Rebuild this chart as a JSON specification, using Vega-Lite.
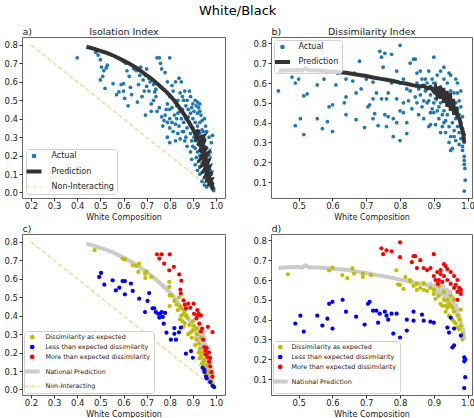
{
  "$schema": "https://vega.github.io/schema/vega-lite/v6.json",
  "background": "white",
  "padding": {"left": 0, "top": 4, "right": 5, "bottom": 2},
  "autosize": {"type": "pad"},
  "title": {"text": "White/Black", "fontSize": 13, "fontWeight": "normal", "font": "DejaVu Sans", "anchor": "middle", "offset": 8},
  "config": {
    "font": "DejaVu Sans",
    "view": {"stroke": "#666666", "strokeWidth": 1},
    "axis": {"grid": false, "domain": false, "labelOverlap": false, "labelFlush": false, "tickColor": "#333333", "tickSize": 3, "labelFontSize": 8.5, "labelColor": "#1a1a1a", "labelFont": "DejaVu Sans", "titleFont": "DejaVu Sans", "titleFontWeight": "normal", "titleColor": "#1a1a1a", "titleFontSize": 8}
  },
  "resolve": {"scale": {"color": "independent"}, "legend": {"color": "independent"}},
  "datasets": {
    "nonint": [{"x": 0.2, "y": 0.8}, {"x": 1.0, "y": 0.0}],
    "pred_a": [
      {"i":1,"x":0.44,"y":0.79},{"i":2,"x":0.47,"y":0.78},{"i":3,"x":0.5,"y":0.768},{"i":4,"x":0.53,"y":0.755},{"i":5,"x":0.56,"y":0.74},{"i":6,"x":0.6,"y":0.715},{"i":7,"x":0.63,"y":0.695},{"i":8,"x":0.66,"y":0.672},{"i":9,"x":0.69,"y":0.645},{"i":10,"x":0.72,"y":0.618},{"i":11,"x":0.75,"y":0.585},{"i":12,"x":0.78,"y":0.552},{"i":13,"x":0.8,"y":0.527},{"i":14,"x":0.82,"y":0.497},{"i":15,"x":0.84,"y":0.463},{"i":16,"x":0.86,"y":0.427},{"i":17,"x":0.88,"y":0.388},{"i":18,"x":0.89,"y":0.365},{"i":19,"x":0.9,"y":0.345},{"i":20,"x":0.91,"y":0.318},{"i":21,"x":0.925,"y":0.34},{"i":22,"x":0.915,"y":0.29},{"i":23,"x":0.945,"y":0.305},{"i":24,"x":0.922,"y":0.255},{"i":25,"x":0.952,"y":0.29},{"i":26,"x":0.93,"y":0.22},{"i":27,"x":0.958,"y":0.25},{"i":28,"x":0.935,"y":0.185},{"i":29,"x":0.962,"y":0.21},{"i":30,"x":0.942,"y":0.15},{"i":31,"x":0.966,"y":0.17},{"i":32,"x":0.95,"y":0.12},{"i":33,"x":0.97,"y":0.135},{"i":34,"x":0.956,"y":0.09},{"i":35,"x":0.975,"y":0.1},{"i":36,"x":0.963,"y":0.065},{"i":37,"x":0.98,"y":0.07},{"i":38,"x":0.972,"y":0.045},{"i":39,"x":0.983,"y":0.045},{"i":40,"x":0.985,"y":0.025},{"i":41,"x":0.99,"y":0.015}
    ],
    "pred_b": [
      {"i":1,"x":0.44,"y":0.662},{"i":2,"x":0.47,"y":0.664},{"i":3,"x":0.5,"y":0.665},{"i":4,"x":0.51,"y":0.662},{"i":5,"x":0.52,"y":0.674},{"i":6,"x":0.53,"y":0.664},{"i":7,"x":0.56,"y":0.663},{"i":8,"x":0.6,"y":0.657},{"i":9,"x":0.64,"y":0.652},{"i":10,"x":0.67,"y":0.643},{"i":11,"x":0.7,"y":0.635},{"i":12,"x":0.72,"y":0.628},{"i":13,"x":0.74,"y":0.622},{"i":14,"x":0.76,"y":0.616},{"i":15,"x":0.78,"y":0.61},{"i":16,"x":0.8,"y":0.602},{"i":17,"x":0.82,"y":0.596},{"i":18,"x":0.84,"y":0.588},{"i":19,"x":0.86,"y":0.582},{"i":20,"x":0.87,"y":0.586},{"i":21,"x":0.88,"y":0.572},{"i":22,"x":0.89,"y":0.58},{"i":23,"x":0.9,"y":0.558},{"i":24,"x":0.905,"y":0.578},{"i":25,"x":0.91,"y":0.54},{"i":26,"x":0.918,"y":0.582},{"i":27,"x":0.92,"y":0.52},{"i":28,"x":0.928,"y":0.575},{"i":29,"x":0.93,"y":0.5},{"i":30,"x":0.938,"y":0.56},{"i":31,"x":0.94,"y":0.48},{"i":32,"x":0.948,"y":0.55},{"i":33,"x":0.95,"y":0.46},{"i":34,"x":0.957,"y":0.52},{"i":35,"x":0.96,"y":0.44},{"i":36,"x":0.966,"y":0.48},{"i":37,"x":0.97,"y":0.43},{"i":38,"x":0.976,"y":0.42},{"i":39,"x":0.981,"y":0.38},{"i":40,"x":0.986,"y":0.355},{"i":41,"x":0.99,"y":0.3}
    ],
    "a_pts": [
      {"x":0.40,"y":0.73},{"x":0.48,"y":0.76},{"x":0.49,"y":0.745},{"x":0.50,"y":0.72},{"x":0.52,"y":0.76},{"x":0.505,"y":0.68},{"x":0.515,"y":0.66},{"x":0.525,"y":0.675},{"x":0.53,"y":0.69},{"x":0.50,"y":0.61},{"x":0.51,"y":0.63},{"x":0.52,"y":0.565},{"x":0.555,"y":0.59},{"x":0.57,"y":0.53},{"x":0.58,"y":0.545},{"x":0.59,"y":0.585},{"x":0.60,"y":0.59},{"x":0.60,"y":0.71},{"x":0.61,"y":0.70},{"x":0.615,"y":0.66},{"x":0.625,"y":0.63},{"x":0.605,"y":0.51},{"x":0.63,"y":0.57},{"x":0.635,"y":0.53},{"x":0.645,"y":0.67},{"x":0.655,"y":0.66},{"x":0.66,"y":0.49},{"x":0.665,"y":0.585},{"x":0.67,"y":0.635},{"x":0.675,"y":0.68},{"x":0.685,"y":0.61},{"x":0.695,"y":0.635},{"x":0.70,"y":0.575},{"x":0.71,"y":0.55},{"x":0.715,"y":0.60},{"x":0.72,"y":0.48},{"x":0.73,"y":0.50},{"x":0.735,"y":0.545},{"x":0.74,"y":0.52},{"x":0.695,"y":0.42},{"x":0.745,"y":0.44},{"x":0.755,"y":0.46},{"x":0.765,"y":0.41},{"x":0.72,"y":0.44},{"x":0.745,"y":0.73},{"x":0.755,"y":0.73},{"x":0.76,"y":0.70},{"x":0.765,"y":0.67},{"x":0.70,"y":0.67},{"x":0.71,"y":0.62},{"x":0.73,"y":0.585},{"x":0.74,"y":0.56},{"x":0.60,"y":0.55},{"x":0.62,"y":0.47},{"x":0.68,"y":0.52},{"x":0.69,"y":0.55},
      {"x":0.775,"y":0.39},{"x":0.78,"y":0.42},{"x":0.77,"y":0.36},{"x":0.785,"y":0.45},{"x":0.79,"y":0.48},{"x":0.80,"y":0.73},{"x":0.78,"y":0.65},{"x":0.79,"y":0.60},{"x":0.80,"y":0.52},{"x":0.80,"y":0.45},{"x":0.81,"y":0.58},{"x":0.79,"y":0.30},{"x":0.80,"y":0.27},{"x":0.815,"y":0.33},{"x":0.825,"y":0.28},{"x":0.835,"y":0.32},{"x":0.82,"y":0.42},{"x":0.83,"y":0.47},{"x":0.835,"y":0.50},{"x":0.845,"y":0.54},{"x":0.84,"y":0.62},{"x":0.85,"y":0.60},{"x":0.855,"y":0.45},{"x":0.86,"y":0.38},{"x":0.865,"y":0.42},{"x":0.875,"y":0.35},{"x":0.87,"y":0.30},{"x":0.875,"y":0.25},{"x":0.85,"y":0.40},{"x":0.84,"y":0.36},{"x":0.83,"y":0.40},{"x":0.81,"y":0.38},{"x":0.80,"y":0.40},{"x":0.82,"y":0.50},{"x":0.86,"y":0.50},{"x":0.87,"y":0.47},{"x":0.855,"y":0.52},{"x":0.865,"y":0.55},{"x":0.845,"y":0.44},{"x":0.835,"y":0.43},{"x":0.825,"y":0.37},{"x":0.855,"y":0.33},{"x":0.865,"y":0.28},{"x":0.845,"y":0.29},{"x":0.80,"y":0.35},{"x":0.81,"y":0.46},{"x":0.79,"y":0.38},{"x":0.815,"y":0.55},{"x":0.825,"y":0.60},{"x":0.86,"y":0.33},{"x":0.87,"y":0.40},{"x":0.88,"y":0.45},{"x":0.88,"y":0.41},{"x":0.875,"y":0.50},
      {"x":0.885,"y":0.38},{"x":0.89,"y":0.32},{"x":0.89,"y":0.22},{"x":0.895,"y":0.28},{"x":0.90,"y":0.40},{"x":0.90,"y":0.35},{"x":0.90,"y":0.25},{"x":0.905,"y":0.30},{"x":0.91,"y":0.38},{"x":0.91,"y":0.33},{"x":0.91,"y":0.24},{"x":0.915,"y":0.28},{"x":0.915,"y":0.19},{"x":0.92,"y":0.43},{"x":0.92,"y":0.36},{"x":0.92,"y":0.30},{"x":0.92,"y":0.22},{"x":0.925,"y":0.26},{"x":0.925,"y":0.17},{"x":0.93,"y":0.38},{"x":0.93,"y":0.32},{"x":0.93,"y":0.27},{"x":0.93,"y":0.20},{"x":0.93,"y":0.14},{"x":0.935,"y":0.24},{"x":0.935,"y":0.30},{"x":0.94,"y":0.34},{"x":0.94,"y":0.28},{"x":0.94,"y":0.22},{"x":0.94,"y":0.16},{"x":0.94,"y":0.11},{"x":0.945,"y":0.19},{"x":0.945,"y":0.25},{"x":0.95,"y":0.29},{"x":0.95,"y":0.23},{"x":0.95,"y":0.17},{"x":0.95,"y":0.12},{"x":0.95,"y":0.08},{"x":0.955,"y":0.20},{"x":0.955,"y":0.14},{"x":0.96,"y":0.24},{"x":0.96,"y":0.18},{"x":0.96,"y":0.12},{"x":0.96,"y":0.07},{"x":0.965,"y":0.15},{"x":0.965,"y":0.10},{"x":0.97,"y":0.20},{"x":0.97,"y":0.14},{"x":0.97,"y":0.09},{"x":0.97,"y":0.05},{"x":0.975,"y":0.12},{"x":0.975,"y":0.07},{"x":0.98,"y":0.10},{"x":0.98,"y":0.06},{"x":0.98,"y":0.03},{"x":0.985,"y":0.31},{"x":0.98,"y":0.27},{"x":0.975,"y":0.22},{"x":0.985,"y":0.05},{"x":0.99,"y":0.02},{"x":0.99,"y":0.01},{"x":0.985,"y":0.02},{"x":0.97,"y":0.30},{"x":0.96,"y":0.33},{"x":0.955,"y":0.36},{"x":0.95,"y":0.40},{"x":0.945,"y":0.33},{"x":0.94,"y":0.39},{"x":0.935,"y":0.42},{"x":0.93,"y":0.44},{"x":0.925,"y":0.46},{"x":0.915,"y":0.47},{"x":0.905,"y":0.44},{"x":0.90,"y":0.48},{"x":0.895,"y":0.46},{"x":0.89,"y":0.52},{"x":0.885,"y":0.55},{"x":0.91,"y":0.50},{"x":0.92,"y":0.49},{"x":0.93,"y":0.48},{"x":0.89,"y":0.43},{"x":0.895,"y":0.18},{"x":0.91,"y":0.15},{"x":0.92,"y":0.12},{"x":0.93,"y":0.10},{"x":0.94,"y":0.06},{"x":0.95,"y":0.04},{"x":0.96,"y":0.03}
    ],
    "b_pts": [
      {"x":0.44,"y":0.56},{"x":0.48,"y":0.63},{"x":0.49,"y":0.60},{"x":0.50,"y":0.62},{"x":0.49,"y":0.385},{"x":0.505,"y":0.42},{"x":0.515,"y":0.535},{"x":0.525,"y":0.545},{"x":0.515,"y":0.34},{"x":0.555,"y":0.42},{"x":0.555,"y":0.59},{"x":0.57,"y":0.37},{"x":0.575,"y":0.62},{"x":0.585,"y":0.405},{"x":0.59,"y":0.48},{"x":0.60,"y":0.49},{"x":0.60,"y":0.355},{"x":0.61,"y":0.59},{"x":0.605,"y":0.66},{"x":0.615,"y":0.65},{"x":0.635,"y":0.50},{"x":0.64,"y":0.53},{"x":0.64,"y":0.44},{"x":0.64,"y":0.62},{"x":0.66,"y":0.61},{"x":0.665,"y":0.65},{"x":0.67,"y":0.415},{"x":0.67,"y":0.55},{"x":0.68,"y":0.71},{"x":0.685,"y":0.57},{"x":0.695,"y":0.375},{"x":0.70,"y":0.62},{"x":0.705,"y":0.48},{"x":0.71,"y":0.49},{"x":0.72,"y":0.52},{"x":0.72,"y":0.605},{"x":0.725,"y":0.445},{"x":0.73,"y":0.55},{"x":0.735,"y":0.385},{"x":0.74,"y":0.76},{"x":0.745,"y":0.73},{"x":0.755,"y":0.75},{"x":0.75,"y":0.68},{"x":0.76,"y":0.52},{"x":0.755,"y":0.44},{"x":0.765,"y":0.43},{"x":0.775,"y":0.745},{"x":0.775,"y":0.60},{"x":0.78,"y":0.33},{"x":0.78,"y":0.42},{"x":0.79,"y":0.66},{"x":0.80,"y":0.79},{"x":0.80,"y":0.31},{"x":0.80,"y":0.46},{"x":0.81,"y":0.62},{"x":0.81,"y":0.50},{"x":0.82,"y":0.40},{"x":0.82,"y":0.345},{"x":0.83,"y":0.56},{"x":0.83,"y":0.70},{"x":0.84,"y":0.72},{"x":0.845,"y":0.72},{"x":0.85,"y":0.60},{"x":0.85,"y":0.50},{"x":0.855,"y":0.44},{"x":0.86,"y":0.66},{"x":0.86,"y":0.54},{"x":0.87,"y":0.42},{"x":0.865,"y":0.48},{"x":0.875,"y":0.62},{"x":0.88,"y":0.50},{"x":0.885,"y":0.38},{"x":0.89,"y":0.39},{"x":0.90,"y":0.73},{"x":0.745,"y":0.52},{"x":0.765,"y":0.55},{"x":0.79,"y":0.52},{"x":0.80,"y":0.60},{"x":0.82,"y":0.57},{"x":0.825,"y":0.51},{"x":0.835,"y":0.47},{"x":0.845,"y":0.53},{"x":0.85,"y":0.65},{"x":0.855,"y":0.57},{"x":0.865,"y":0.62},{"x":0.87,"y":0.51},{"x":0.875,"y":0.56},{"x":0.88,"y":0.60},{"x":0.885,"y":0.66},{"x":0.89,"y":0.54},{"x":0.895,"y":0.62},{"x":0.72,"y":0.42},{"x":0.76,"y":0.38},{"x":0.79,"y":0.40},{"x":0.81,"y":0.45},
      {"x":0.90,"y":0.60},{"x":0.90,"y":0.45},{"x":0.905,"y":0.52},{"x":0.91,"y":0.64},{"x":0.91,"y":0.55},{"x":0.915,"y":0.48},{"x":0.915,"y":0.42},{"x":0.92,"y":0.66},{"x":0.92,"y":0.58},{"x":0.92,"y":0.50},{"x":0.925,"y":0.44},{"x":0.925,"y":0.38},{"x":0.93,"y":0.68},{"x":0.93,"y":0.62},{"x":0.93,"y":0.54},{"x":0.93,"y":0.46},{"x":0.935,"y":0.35},{"x":0.935,"y":0.41},{"x":0.94,"y":0.60},{"x":0.94,"y":0.52},{"x":0.94,"y":0.44},{"x":0.945,"y":0.38},{"x":0.945,"y":0.65},{"x":0.95,"y":0.26},{"x":0.95,"y":0.64},{"x":0.95,"y":0.56},{"x":0.95,"y":0.47},{"x":0.95,"y":0.33},{"x":0.955,"y":0.27},{"x":0.955,"y":0.40},{"x":0.96,"y":0.55},{"x":0.96,"y":0.45},{"x":0.96,"y":0.36},{"x":0.965,"y":0.62},{"x":0.965,"y":0.50},{"x":0.965,"y":0.42},{"x":0.965,"y":0.31},{"x":0.97,"y":0.60},{"x":0.97,"y":0.55},{"x":0.97,"y":0.47},{"x":0.97,"y":0.38},{"x":0.975,"y":0.51},{"x":0.975,"y":0.44},{"x":0.975,"y":0.35},{"x":0.98,"y":0.56},{"x":0.98,"y":0.48},{"x":0.98,"y":0.40},{"x":0.98,"y":0.32},{"x":0.985,"y":0.43},{"x":0.985,"y":0.37},{"x":0.985,"y":0.28},{"x":0.99,"y":0.34},{"x":0.99,"y":0.30},{"x":0.99,"y":0.23},{"x":0.99,"y":0.21},{"x":0.99,"y":0.19},{"x":0.992,"y":0.17},{"x":0.993,"y":0.11},{"x":0.99,"y":0.055},{"x":0.985,"y":0.26},{"x":0.975,"y":0.29},{"x":0.96,"y":0.33},{"x":0.945,"y":0.30},{"x":0.93,"y":0.40},{"x":0.92,"y":0.35},{"x":0.91,"y":0.46},{"x":0.905,"y":0.39},{"x":0.90,"y":0.50},{"x":0.895,"y":0.47},{"x":0.89,"y":0.45},{"x":0.885,"y":0.51}
    ],
    "c_exp": [
      {"x":0.475,"y":0.755},{"x":0.596,"y":0.71},{"x":0.606,"y":0.705},{"x":0.64,"y":0.673},{"x":0.655,"y":0.67},{"x":0.668,"y":0.682},{"x":0.664,"y":0.637},{"x":0.693,"y":0.628},{"x":0.70,"y":0.64},{"x":0.695,"y":0.605},{"x":0.72,"y":0.61},{"x":0.798,"y":0.583},{"x":0.798,"y":0.556},{"x":0.80,"y":0.51},{"x":0.80,"y":0.452},{"x":0.82,"y":0.48},{"x":0.83,"y":0.46},{"x":0.835,"y":0.43},{"x":0.845,"y":0.45},{"x":0.85,"y":0.40},{"x":0.855,"y":0.37},{"x":0.86,"y":0.34},{"x":0.865,"y":0.36},{"x":0.875,"y":0.39},{"x":0.885,"y":0.35},{"x":0.90,"y":0.37},{"x":0.905,"y":0.345},{"x":0.915,"y":0.33},{"x":0.92,"y":0.30},{"x":0.925,"y":0.25},{"x":0.93,"y":0.22},{"x":0.935,"y":0.18},{"x":0.94,"y":0.20},{"x":0.945,"y":0.15},{"x":0.95,"y":0.16},{"x":0.955,"y":0.12},{"x":0.96,"y":0.13},{"x":0.965,"y":0.085},{"x":0.975,"y":0.06},{"x":0.97,"y":0.10},{"x":0.985,"y":0.03},{"x":0.915,"y":0.27},{"x":0.925,"y":0.20},{"x":0.935,"y":0.28},{"x":0.91,"y":0.24},{"x":0.95,"y":0.11},{"x":0.955,"y":0.09},{"x":0.865,"y":0.43},{"x":0.88,"y":0.30},{"x":0.895,"y":0.28},{"x":0.90,"y":0.32},{"x":0.85,"y":0.44},{"x":0.86,"y":0.41},{"x":0.87,"y":0.40},{"x":0.84,"y":0.50},{"x":0.81,"y":0.51},{"x":0.845,"y":0.38},{"x":0.89,"y":0.31},{"x":0.93,"y":0.17},{"x":0.94,"y":0.14},{"x":0.96,"y":0.08},{"x":0.98,"y":0.05}
    ],
    "c_less": [
      {"x":0.495,"y":0.61},{"x":0.503,"y":0.632},{"x":0.517,"y":0.568},{"x":0.553,"y":0.592},{"x":0.567,"y":0.537},{"x":0.582,"y":0.552},{"x":0.596,"y":0.588},{"x":0.606,"y":0.588},{"x":0.606,"y":0.516},{"x":0.632,"y":0.574},{"x":0.64,"y":0.534},{"x":0.668,"y":0.492},{"x":0.693,"y":0.42},{"x":0.704,"y":0.48},{"x":0.711,"y":0.523},{"x":0.726,"y":0.44},{"x":0.733,"y":0.44},{"x":0.74,"y":0.42},{"x":0.75,"y":0.41},{"x":0.759,"y":0.411},{"x":0.77,"y":0.393},{"x":0.774,"y":0.357},{"x":0.78,"y":0.415},{"x":0.786,"y":0.308},{"x":0.805,"y":0.27},{"x":0.82,"y":0.333},{"x":0.82,"y":0.302},{"x":0.827,"y":0.27},{"x":0.84,"y":0.31},{"x":0.848,"y":0.335},{"x":0.87,"y":0.194},{"x":0.892,"y":0.208},{"x":0.90,"y":0.172},{"x":0.942,"y":0.118},{"x":0.95,"y":0.095},{"x":0.957,"y":0.07},{"x":0.95,"y":0.105},{"x":0.96,"y":0.06},{"x":0.975,"y":0.04},{"x":0.985,"y":0.02},{"x":0.992,"y":0.013},{"x":0.755,"y":0.39},{"x":0.765,"y":0.42}
    ],
    "c_more": [
      {"x":0.745,"y":0.733},{"x":0.755,"y":0.71},{"x":0.765,"y":0.733},{"x":0.776,"y":0.682},{"x":0.80,"y":0.733},{"x":0.818,"y":0.665},{"x":0.798,"y":0.646},{"x":0.841,"y":0.624},{"x":0.85,"y":0.59},{"x":0.846,"y":0.541},{"x":0.848,"y":0.52},{"x":0.86,"y":0.483},{"x":0.903,"y":0.465},{"x":0.889,"y":0.443},{"x":0.92,"y":0.43},{"x":0.905,"y":0.41},{"x":0.935,"y":0.402},{"x":0.928,"y":0.357},{"x":0.94,"y":0.33},{"x":0.935,"y":0.315},{"x":0.965,"y":0.34},{"x":0.985,"y":0.311},{"x":0.949,"y":0.23},{"x":0.955,"y":0.21},{"x":0.964,"y":0.176},{"x":0.97,"y":0.15},{"x":0.975,"y":0.125},{"x":0.981,"y":0.094},{"x":0.985,"y":0.07},{"x":0.87,"y":0.44},{"x":0.88,"y":0.465},{"x":0.915,"y":0.385},{"x":0.925,"y":0.41},{"x":0.945,"y":0.27},{"x":0.96,"y":0.225},{"x":0.97,"y":0.2},{"x":0.975,"y":0.17},{"x":0.865,"y":0.46},{"x":0.955,"y":0.19},{"x":0.92,"y":0.4}
    ],
    "d_exp": [
      {"x":0.468,"y":0.629},{"x":0.59,"y":0.649},{"x":0.60,"y":0.662},{"x":0.629,"y":0.625},{"x":0.644,"y":0.61},{"x":0.659,"y":0.659},{"x":0.664,"y":0.632},{"x":0.69,"y":0.615},{"x":0.69,"y":0.632},{"x":0.714,"y":0.624},{"x":0.789,"y":0.649},{"x":0.794,"y":0.578},{"x":0.80,"y":0.575},{"x":0.816,"y":0.615},{"x":0.829,"y":0.60},{"x":0.84,"y":0.57},{"x":0.85,"y":0.55},{"x":0.86,"y":0.56},{"x":0.87,"y":0.55},{"x":0.88,"y":0.545},{"x":0.89,"y":0.56},{"x":0.90,"y":0.53},{"x":0.905,"y":0.505},{"x":0.915,"y":0.52},{"x":0.92,"y":0.48},{"x":0.925,"y":0.47},{"x":0.93,"y":0.50},{"x":0.935,"y":0.44},{"x":0.94,"y":0.46},{"x":0.945,"y":0.42},{"x":0.95,"y":0.47},{"x":0.955,"y":0.40},{"x":0.96,"y":0.44},{"x":0.965,"y":0.38},{"x":0.97,"y":0.36},{"x":0.975,"y":0.35},{"x":0.975,"y":0.40},{"x":0.985,"y":0.30},{"x":0.985,"y":0.33},{"x":0.98,"y":0.45},{"x":0.96,"y":0.50},{"x":0.95,"y":0.52},{"x":0.94,"y":0.50},{"x":0.93,"y":0.54},{"x":0.915,"y":0.57},{"x":0.90,"y":0.55},{"x":0.87,"y":0.58},{"x":0.85,"y":0.58},{"x":0.83,"y":0.595},{"x":0.81,"y":0.555},{"x":0.96,"y":0.39},{"x":0.97,"y":0.42},{"x":0.98,"y":0.37},{"x":0.955,"y":0.46},{"x":0.945,"y":0.48},{"x":0.935,"y":0.47}
    ],
    "d_less": [
      {"x":0.49,"y":0.38},{"x":0.505,"y":0.42},{"x":0.515,"y":0.34},{"x":0.555,"y":0.42},{"x":0.57,"y":0.37},{"x":0.585,"y":0.405},{"x":0.59,"y":0.48},{"x":0.60,"y":0.49},{"x":0.60,"y":0.355},{"x":0.63,"y":0.50},{"x":0.64,"y":0.44},{"x":0.67,"y":0.415},{"x":0.695,"y":0.375},{"x":0.705,"y":0.48},{"x":0.71,"y":0.49},{"x":0.72,"y":0.445},{"x":0.73,"y":0.445},{"x":0.735,"y":0.385},{"x":0.74,"y":0.43},{"x":0.755,"y":0.44},{"x":0.76,"y":0.42},{"x":0.765,"y":0.40},{"x":0.775,"y":0.43},{"x":0.78,"y":0.33},{"x":0.79,"y":0.43},{"x":0.80,"y":0.31},{"x":0.82,"y":0.40},{"x":0.82,"y":0.345},{"x":0.84,"y":0.44},{"x":0.84,"y":0.395},{"x":0.865,"y":0.425},{"x":0.87,"y":0.395},{"x":0.89,"y":0.39},{"x":0.90,"y":0.385},{"x":0.94,"y":0.36},{"x":0.945,"y":0.335},{"x":0.95,"y":0.41},{"x":0.955,"y":0.26},{"x":0.96,"y":0.27},{"x":0.96,"y":0.355},{"x":0.98,"y":0.32},{"x":0.99,"y":0.21},{"x":0.99,"y":0.19},{"x":0.993,"y":0.2},{"x":0.993,"y":0.11},{"x":0.99,"y":0.055}
    ],
    "d_more": [
      {"x":0.745,"y":0.76},{"x":0.75,"y":0.73},{"x":0.76,"y":0.75},{"x":0.775,"y":0.745},{"x":0.80,"y":0.79},{"x":0.80,"y":0.715},{"x":0.84,"y":0.72},{"x":0.845,"y":0.72},{"x":0.835,"y":0.69},{"x":0.85,"y":0.66},{"x":0.86,"y":0.70},{"x":0.87,"y":0.66},{"x":0.88,"y":0.65},{"x":0.89,"y":0.66},{"x":0.90,"y":0.73},{"x":0.90,"y":0.62},{"x":0.91,"y":0.64},{"x":0.915,"y":0.60},{"x":0.92,"y":0.65},{"x":0.93,"y":0.68},{"x":0.93,"y":0.62},{"x":0.935,"y":0.67},{"x":0.94,"y":0.60},{"x":0.95,"y":0.64},{"x":0.95,"y":0.58},{"x":0.96,"y":0.56},{"x":0.97,"y":0.60},{"x":0.97,"y":0.54},{"x":0.975,"y":0.56},{"x":0.98,"y":0.53},{"x":0.98,"y":0.55},{"x":0.97,"y":0.50},{"x":0.96,"y":0.62},{"x":0.925,"y":0.59},{"x":0.905,"y":0.60},{"x":0.912,"y":0.58},{"x":0.92,"y":0.63},{"x":0.94,"y":0.655},{"x":0.965,"y":0.575}
    ]
  },
  "vconcat": [
    {
      "spacing": 23,
      "resolve": {"scale": {"color": "independent"}, "legend": {"color": "independent"}},
      "hconcat": [
        {
          "width": 203, "height": 161,
          "resolve": {"axis": {"x": "independent"}},
          "layer": [
            {
              "data": {"name": "nonint"},
              "mark": {"type": "line", "strokeDash": [4.5, 2.5], "strokeWidth": 1.2, "clip": true},
              "encoding": {
                "x": {"field": "x", "type": "quantitative", "scale": {"domain": [0.161, 1.039], "nice": false, "zero": false}, "axis": {"orient": "bottom", "values": [0.2,0.3,0.4,0.5,0.6,0.7,0.8,0.9,1.0], "tickCount": 20, "labelOverlap": false, "format": ".1f", "title": "White Composition", "labelPadding": 0.5, "titlePadding": 3.5}},
                "y": {"field": "y", "type": "quantitative", "scale": {"domain": [-0.03, 0.843], "nice": false, "zero": false}, "axis": {"values": [0,0.1,0.2,0.3,0.4,0.5,0.6,0.7,0.8], "tickCount": 20, "labelOverlap": false, "format": ".1f", "title": "a)", "titleAngle": 0, "titleX": 0, "titleY": -3, "titleAlign": "left", "titleBaseline": "alphabetic", "titleFontSize": 9.5, "labelPadding": 1.5, "minExtent": 21, "maxExtent": 21}},
                "color": {"datum": "Non-Interacting", "type": "nominal", "scale": {"domain": ["Actual", "Prediction", "Non-Interacting"], "range": ["#1f77b4", "#333333", "#dfdf80"]},
                  "legend": {"title": null, "orient": "bottom-left", "offset": 4, "padding": 3, "rowPadding": 3.5, "labelFontSize": 8, "labelFont": "DejaVu Sans", "labelColor": "#1a1a1a", "labelOffset": 13.5, "symbolOffset": 1, "symbolSize": 225, "symbolType": "stroke", "symbolStrokeWidth": 1.2, "strokeColor": "#d0d0d0", "fillColor": "rgba(255,255,255,0.8)", "cornerRadius": 3,
                    "encode": {"symbols": {"update": {
                      "shape": {"signal": "datum.value == 'Actual' ? 'circle' : 'M-1,0H1'"},
                      "size": {"signal": "datum.value == 'Actual' ? 22 : 225"},
                      "strokeWidth": {"signal": "datum.value == 'Actual' ? 0 : (datum.value == 'Prediction' ? 4 : 1.2)"},
                      "strokeDash": {"signal": "datum.value == 'Non-Interacting' ? [4, 2.5] : [1, 0]"},
                      "fill": {"signal": "datum.value == 'Actual' ? '#1f77b4' : 'transparent'"},
                      "stroke": {"signal": "datum.value == 'Actual' ? '#1f77b4' : (datum.value == 'Prediction' ? '#333333' : '#dfdf80')"},
                      "opacity": {"value": 1}
                    }}}}}
              }
            },
            {
              "data": {"name": "a_pts"},
              "mark": {"type": "circle", "size": 14, "opacity": 1, "clip": true},
              "encoding": {
                "x": {"field": "x", "type": "quantitative", "axis": null},
                "y": {"field": "y", "type": "quantitative"},
                "color": {"datum": "Actual", "type": "nominal"}
              }
            },
            {
              "data": {"name": "pred_a"},
              "mark": {"type": "line", "strokeWidth": 4, "clip": true},
              "encoding": {
                "x": {"field": "x", "type": "quantitative", "axis": {"orient": "top", "title": "Isolation Index", "labels": false, "ticks": false, "domain": false, "titlePadding": 3, "titleFontSize": 9.5, "titleBaseline": "alphabetic", "minExtent": 0, "maxExtent": 0}},
                "y": {"field": "y", "type": "quantitative"},
                "order": {"field": "i"},
                "color": {"datum": "Prediction", "type": "nominal"}
              }
            }
          ]
        },
        {
          "width": 201, "height": 161,
          "resolve": {"axis": {"x": "independent"}},
          "layer": [
            {
              "data": {"name": "b_pts"},
              "mark": {"type": "circle", "size": 14, "opacity": 1, "clip": true},
              "encoding": {
                "x": {"field": "x", "type": "quantitative", "scale": {"domain": [0.418, 1.013], "nice": false, "zero": false}, "axis": {"orient": "bottom", "values": [0.5,0.6,0.7,0.8,0.9,1.0], "tickCount": 20, "labelOverlap": false, "format": ".1f", "title": "White Composition", "labelPadding": 0.5, "titlePadding": 3.5}},
                "y": {"field": "y", "type": "quantitative", "scale": {"domain": [0.02, 0.832], "nice": false, "zero": false}, "axis": {"values": [0.1,0.2,0.3,0.4,0.5,0.6,0.7,0.8], "tickCount": 20, "labelOverlap": false, "format": ".1f", "title": "b)", "titleAngle": 0, "titleX": 0, "titleY": -3, "titleAlign": "left", "titleBaseline": "alphabetic", "titleFontSize": 9.5, "labelPadding": 1.5, "minExtent": 21, "maxExtent": 21}},
                "color": {"datum": "Actual", "type": "nominal", "scale": {"domain": ["Actual", "Prediction"], "range": ["#1f77b4", "#333333"]}}
              }
            },
            {
              "data": {"name": "pred_b"},
              "mark": {"type": "line", "strokeWidth": 4, "clip": true},
              "encoding": {
                "x": {"field": "x", "type": "quantitative", "axis": {"orient": "top", "title": "Dissimilarity Index", "labels": false, "ticks": false, "domain": false, "titlePadding": 3, "titleFontSize": 9.5, "titleBaseline": "alphabetic", "minExtent": 0, "maxExtent": 0}},
                "y": {"field": "y", "type": "quantitative"},
                "order": {"field": "i"},
                "color": {"datum": "Prediction", "type": "nominal", "scale": {"domain": ["Actual", "Prediction"], "range": ["#1f77b4", "#333333"]},
                  "legend": {"title": null, "orient": "top-left", "offset": 3, "padding": 3, "rowPadding": 3, "labelFontSize": 8, "labelFont": "DejaVu Sans", "labelColor": "#1a1a1a", "labelOffset": 12, "symbolOffset": 1.5, "symbolSize": 225, "symbolType": "stroke", "symbolStrokeWidth": 1.2, "strokeColor": "#d0d0d0", "fillColor": "rgba(255,255,255,0.8)", "cornerRadius": 3,
                    "encode": {"symbols": {"update": {
                      "shape": {"signal": "datum.value == 'Actual' ? 'circle' : 'M-1,0H1'"},
                      "size": {"signal": "datum.value == 'Actual' ? 22 : 225"},
                      "strokeWidth": {"signal": "datum.value == 'Actual' ? 0 : 4"},
                      "fill": {"signal": "datum.value == 'Actual' ? '#1f77b4' : 'transparent'"},
                      "stroke": {"signal": "datum.value == 'Actual' ? '#1f77b4' : '#333333'"},
                      "opacity": {"value": 1}
                    }}}}}
              }
            }
          ]
        }
      ]
    },
    {
      "spacing": 23,
      "resolve": {"scale": {"color": "independent"}, "legend": {"color": "independent"}},
      "hconcat": [
        {
          "width": 203, "height": 161,
          "layer": [
            {
              "data": {"name": "pred_a"},
              "mark": {"type": "line", "strokeWidth": 4, "clip": true},
              "encoding": {
                "x": {"field": "x", "type": "quantitative", "scale": {"domain": [0.161, 1.039], "nice": false, "zero": false}, "axis": {"values": [0.2,0.3,0.4,0.5,0.6,0.7,0.8,0.9,1.0], "tickCount": 20, "labelOverlap": false, "format": ".1f", "title": "White Composition", "labelPadding": 0.5, "titlePadding": 3.5}},
                "y": {"field": "y", "type": "quantitative", "scale": {"domain": [-0.03, 0.843], "nice": false, "zero": false}, "axis": {"values": [0,0.1,0.2,0.3,0.4,0.5,0.6,0.7,0.8], "tickCount": 20, "labelOverlap": false, "format": ".1f", "title": "c)", "titleAngle": 0, "titleX": 0, "titleY": -3, "titleAlign": "left", "titleBaseline": "alphabetic", "titleFontSize": 9.5, "labelPadding": 1.5, "minExtent": 21, "maxExtent": 21}},
                "order": {"field": "i"},
                "color": {"datum": "National Prediction", "type": "nominal", "scale": {"domain": ["Dissimilarity as expected", "Less than expected dissimilarity", "More than expected dissimilarity", "National Prediction", "Non-Interacting"], "range": ["#bfbf00", "#0000ff", "#ff0000", "#cbcbcb", "#dfdf80"]},
                  "legend": {"title": null, "orient": "bottom-left", "offset": 2, "padding": 3, "rowPadding": 2.8, "labelFontSize": 6.4, "labelFont": "DejaVu Sans", "labelColor": "#1a1a1a", "labelOffset": 10, "symbolOffset": 2, "symbolSize": 225, "symbolType": "stroke", "symbolStrokeWidth": 1.2, "strokeColor": "#d0d0d0", "fillColor": "rgba(255,255,255,0.8)", "cornerRadius": 3,
                    "encode": {"symbols": {"update": {
                      "shape": {"signal": "(datum.value == 'National Prediction' || datum.value == 'Non-Interacting') ? 'M-1,0H1' : 'circle'"},
                      "size": {"signal": "(datum.value == 'National Prediction' || datum.value == 'Non-Interacting') ? 225 : 22"},
                      "strokeWidth": {"signal": "datum.value == 'National Prediction' ? 4 : (datum.value == 'Non-Interacting' ? 1.2 : 0)"},
                      "strokeDash": {"signal": "datum.value == 'Non-Interacting' ? [4, 2.5] : [1, 0]"},
                      "fill": {"signal": "datum.value == 'Dissimilarity as expected' ? '#bfbf00' : (datum.value == 'Less than expected dissimilarity' ? '#0000ff' : (datum.value == 'More than expected dissimilarity' ? '#ff0000' : 'transparent'))"},
                      "stroke": {"signal": "datum.value == 'National Prediction' ? '#cbcbcb' : (datum.value == 'Non-Interacting' ? '#dfdf80' : 'transparent')"},
                      "opacity": {"value": 1}
                    }}}}}
              }
            },
            {
              "data": {"name": "nonint"},
              "mark": {"type": "line", "strokeDash": [4.5, 2.5], "strokeWidth": 1.2, "clip": true},
              "encoding": {
                "x": {"field": "x", "type": "quantitative"},
                "y": {"field": "y", "type": "quantitative"},
                "color": {"datum": "Non-Interacting", "type": "nominal"}
              }
            },
            {
              "data": {"name": "c_exp"},
              "mark": {"type": "circle", "size": 18, "opacity": 1, "clip": true},
              "encoding": {
                "x": {"field": "x", "type": "quantitative"},
                "y": {"field": "y", "type": "quantitative"},
                "color": {"datum": "Dissimilarity as expected", "type": "nominal"}
              }
            },
            {
              "data": {"name": "c_less"},
              "mark": {"type": "circle", "size": 18, "opacity": 1, "clip": true},
              "encoding": {
                "x": {"field": "x", "type": "quantitative"},
                "y": {"field": "y", "type": "quantitative"},
                "color": {"datum": "Less than expected dissimilarity", "type": "nominal"}
              }
            },
            {
              "data": {"name": "c_more"},
              "mark": {"type": "circle", "size": 18, "opacity": 1, "clip": true},
              "encoding": {
                "x": {"field": "x", "type": "quantitative"},
                "y": {"field": "y", "type": "quantitative"},
                "color": {"datum": "More than expected dissimilarity", "type": "nominal"}
              }
            }
          ]
        },
        {
          "width": 201, "height": 161,
          "layer": [
            {
              "data": {"name": "pred_b"},
              "mark": {"type": "line", "strokeWidth": 4, "clip": true},
              "encoding": {
                "x": {"field": "x", "type": "quantitative", "scale": {"domain": [0.418, 1.013], "nice": false, "zero": false}, "axis": {"values": [0.5,0.6,0.7,0.8,0.9,1.0], "tickCount": 20, "labelOverlap": false, "format": ".1f", "title": "White Composition", "labelPadding": 0.5, "titlePadding": 3.5}},
                "y": {"field": "y", "type": "quantitative", "scale": {"domain": [0.02, 0.832], "nice": false, "zero": false}, "axis": {"values": [0.1,0.2,0.3,0.4,0.5,0.6,0.7,0.8], "tickCount": 20, "labelOverlap": false, "format": ".1f", "title": "d)", "titleAngle": 0, "titleX": 0, "titleY": -3, "titleAlign": "left", "titleBaseline": "alphabetic", "titleFontSize": 9.5, "labelPadding": 1.5, "minExtent": 21, "maxExtent": 21}},
                "order": {"field": "i"},
                "color": {"datum": "National Prediction", "type": "nominal", "scale": {"domain": ["Dissimilarity as expected", "Less than expected dissimilarity", "More than expected dissimilarity", "National Prediction"], "range": ["#bfbf00", "#0000ff", "#ff0000", "#cbcbcb"]},
                  "legend": {"title": null, "orient": "bottom-left", "offset": 2, "padding": 3, "rowPadding": 2.8, "labelFontSize": 6.4, "labelFont": "DejaVu Sans", "labelColor": "#1a1a1a", "labelOffset": 8, "symbolOffset": 1, "symbolSize": 225, "symbolType": "stroke", "symbolStrokeWidth": 1.2, "strokeColor": "#d0d0d0", "fillColor": "rgba(255,255,255,0.8)", "cornerRadius": 3,
                    "encode": {"symbols": {"update": {
                      "shape": {"signal": "datum.value == 'National Prediction' ? 'M-1,0H1' : 'circle'"},
                      "size": {"signal": "datum.value == 'National Prediction' ? 225 : 22"},
                      "strokeWidth": {"signal": "datum.value == 'National Prediction' ? 4 : 0"},
                      "fill": {"signal": "datum.value == 'Dissimilarity as expected' ? '#bfbf00' : (datum.value == 'Less than expected dissimilarity' ? '#0000ff' : (datum.value == 'More than expected dissimilarity' ? '#ff0000' : 'transparent'))"},
                      "stroke": {"signal": "datum.value == 'National Prediction' ? '#cbcbcb' : 'transparent'"},
                      "opacity": {"value": 1}
                    }}}}}
              }
            },
            {
              "data": {"name": "d_exp"},
              "mark": {"type": "circle", "size": 18, "opacity": 1, "clip": true},
              "encoding": {
                "x": {"field": "x", "type": "quantitative"},
                "y": {"field": "y", "type": "quantitative"},
                "color": {"datum": "Dissimilarity as expected", "type": "nominal"}
              }
            },
            {
              "data": {"name": "d_less"},
              "mark": {"type": "circle", "size": 18, "opacity": 1, "clip": true},
              "encoding": {
                "x": {"field": "x", "type": "quantitative"},
                "y": {"field": "y", "type": "quantitative"},
                "color": {"datum": "Less than expected dissimilarity", "type": "nominal"}
              }
            },
            {
              "data": {"name": "d_more"},
              "mark": {"type": "circle", "size": 18, "opacity": 1, "clip": true},
              "encoding": {
                "x": {"field": "x", "type": "quantitative"},
                "y": {"field": "y", "type": "quantitative"},
                "color": {"datum": "More than expected dissimilarity", "type": "nominal"}
              }
            }
          ]
        }
      ]
    }
  ],
  "spacing": 0
}
